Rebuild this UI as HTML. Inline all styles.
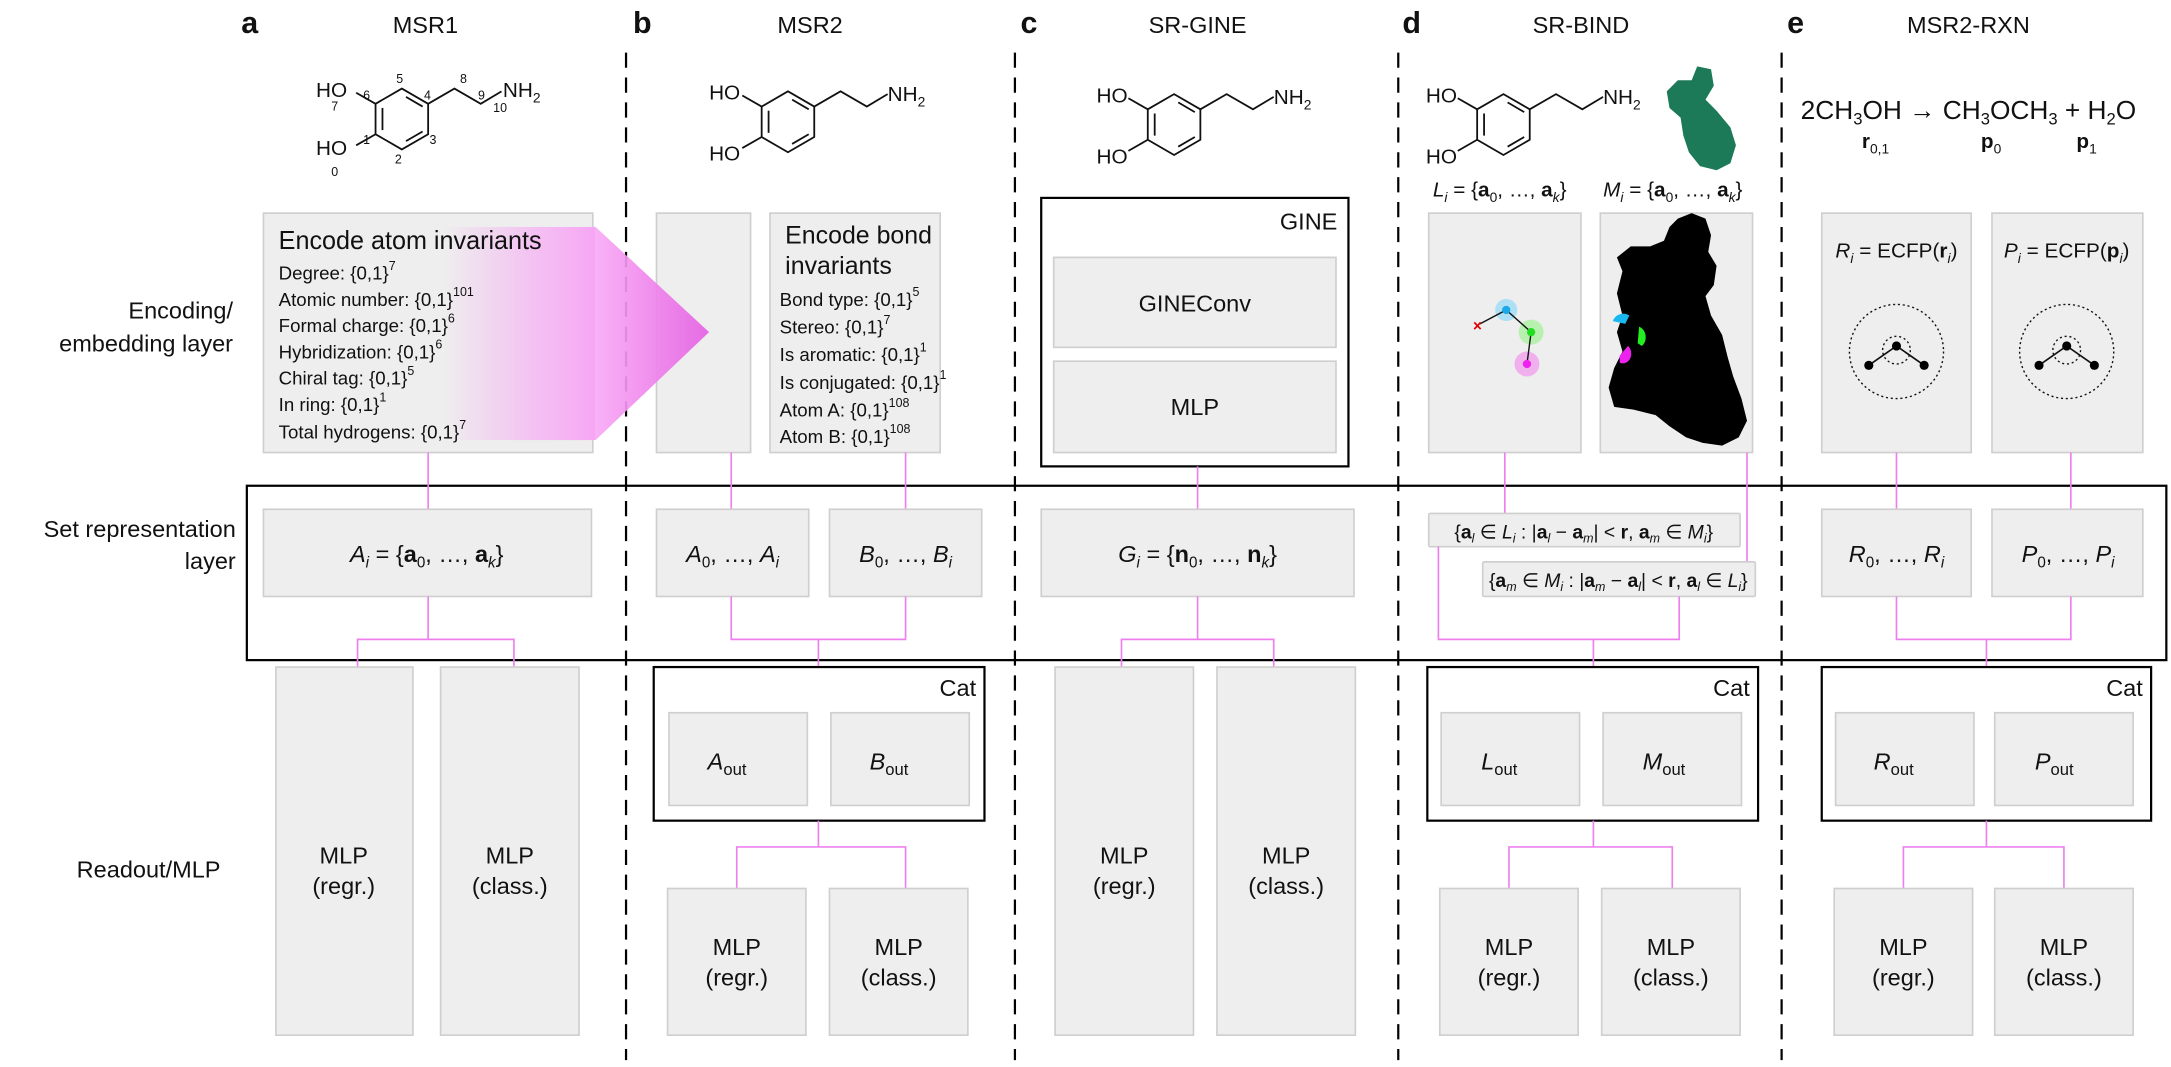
<!DOCTYPE html>
<html><head><meta charset="utf-8"><style>
html,body{margin:0;padding:0;background:#fff;}
svg{display:block;}
text{font-family:"Liberation Sans",sans-serif;fill:#111;}
.g{fill:#eeeeee;stroke:#cfcfcf;stroke-width:1.2;}
.k{fill:none;stroke:#000;stroke-width:1.6;}
.p{fill:none;stroke:#ee80ee;stroke-width:1.2;}
.d{stroke:#000;stroke-width:1.6;stroke-dasharray:11,7;}
.t{font-size:17px;}
.s{font-size:13.5px;}
.b{font-weight:bold;font-size:22px;}
.m{stroke:#111;stroke-width:1.3;fill:none;}
</style></head><body>
<svg width="2171" height="1067" viewBox="0 0 1568 771" xmlns="http://www.w3.org/2000/svg">
<defs>
<linearGradient id="pg" x1="320" y1="0" x2="430" y2="0" gradientUnits="userSpaceOnUse">
<stop offset="0" stop-color="#f7a0f5" stop-opacity="0"/>
<stop offset="1" stop-color="#f7a6f4" stop-opacity="1"/>
</linearGradient>
<linearGradient id="pg2" x1="430" y1="0" x2="512" y2="0" gradientUnits="userSpaceOnUse">
<stop offset="0" stop-color="#f8aaf5"/>
<stop offset="1" stop-color="#e560e3"/>
</linearGradient>
<g id="dopa">
<polygon class="m" points="0,-22 19,-11 19,11 0,22 -19,11 -19,-11"/>
<line class="m" x1="-14" y1="-8" x2="-14" y2="8"/>
<line class="m" x1="3" y1="-16" x2="15" y2="-9"/>
<line class="m" x1="3" y1="16" x2="15" y2="9"/>
<line class="m" x1="-19" y1="-11" x2="-33" y2="-19"/>
<line class="m" x1="-19" y1="11" x2="-33" y2="19"/>
<polyline class="m" points="19,-11 38,-22 57,-11 72,-20"/>
</g>
</defs>

<line class="d" x1="452" y1="38" x2="452" y2="766"/>
<line class="d" x1="733" y1="38" x2="733" y2="766"/>
<line class="d" x1="1010" y1="38" x2="1010" y2="766"/>
<line class="d" x1="1287" y1="38" x2="1287" y2="766"/>

<text class="b" x="174" y="24">a</text><text class="t" x="307" y="24" text-anchor="middle">MSR1</text>
<text class="b" x="457" y="24">b</text><text class="t" x="585" y="24" text-anchor="middle">MSR2</text>
<text class="b" x="737" y="24">c</text><text class="t" x="865" y="24" text-anchor="middle">SR-GINE</text>
<text class="b" x="1013" y="24">d</text><text class="t" x="1142" y="24" text-anchor="middle">SR-BIND</text>
<text class="b" x="1291" y="24">e</text><text class="t" x="1422" y="24" text-anchor="middle">MSR2-RXN</text>

<text class="t" x="168" y="230" text-anchor="end">Encoding/</text>
<text class="t" x="168" y="254" text-anchor="end">embedding layer</text>
<text class="t" x="170" y="388" text-anchor="end">Set representation</text>
<text class="t" x="170" y="411" text-anchor="end">layer</text>
<text class="t" x="107" y="634" text-anchor="middle">Readout/MLP</text>

<use href="#dopa" x="290" y="86"/>
<text x="228" y="70" style="font-size:15px">HO</text><text x="228" y="112" style="font-size:15px">HO</text><text x="363" y="70" style="font-size:15px">NH<tspan style="font-size:10px" dy="4">2</tspan></text>
<g style="font-size:9px;font-family:'Liberation Serif',serif">
<text x="286" y="60">5</text><text x="306" y="72">4</text><text x="262" y="72">6</text><text x="239" y="80">7</text><text x="332" y="60">8</text><text x="345" y="72">9</text><text x="356" y="81">10</text><text x="262" y="104">1</text><text x="310" y="104">3</text><text x="285" y="118">2</text><text x="239" y="127">0</text>
</g>
<use href="#dopa" x="569" y="88"/>
<text x="512" y="72" style="font-size:15px">HO</text><text x="512" y="116" style="font-size:15px">HO</text><text x="641" y="73" style="font-size:15px">NH<tspan style="font-size:10px" dy="4">2</tspan></text>
<use href="#dopa" x="848" y="90"/>
<text x="792" y="74" style="font-size:15px">HO</text><text x="792" y="118" style="font-size:15px">HO</text><text x="920" y="75" style="font-size:15px">NH<tspan style="font-size:10px" dy="4">2</tspan></text>
<use href="#dopa" x="1086" y="90"/>
<text x="1030" y="74" style="font-size:15px">HO</text><text x="1030" y="118" style="font-size:15px">HO</text><text x="1158" y="75" style="font-size:15px">NH<tspan style="font-size:10px" dy="4">2</tspan></text>
<path d="M1226,48 L1236,50 L1238,62 L1232,72 L1240,80 L1250,92 L1254,105 L1250,118 L1240,123 L1228,120 L1220,110 L1216,98 L1214,85 L1206,78 L1204,66 L1212,58 L1222,58 Z" fill="#1c7a58"/>

<text x="1422" y="86" text-anchor="middle" style="font-size:19px">2CH<tspan style="font-size:12px" dy="4">3</tspan><tspan dy="-4">OH → CH</tspan><tspan style="font-size:12px" dy="4">3</tspan><tspan dy="-4">OCH</tspan><tspan style="font-size:12px" dy="4">3</tspan><tspan dy="-4"> + H</tspan><tspan style="font-size:12px" dy="4">2</tspan><tspan dy="-4">O</tspan></text>
<text x="1345" y="107" style="font-size:15px;font-weight:bold">r<tspan style="font-size:10px;font-weight:normal" dy="4">0,1</tspan></text>
<text x="1431" y="107" style="font-size:15px;font-weight:bold">p<tspan style="font-size:10px;font-weight:normal" dy="4">0</tspan></text>
<text x="1500" y="107" style="font-size:15px;font-weight:bold">p<tspan style="font-size:10px;font-weight:normal" dy="4">1</tspan></text>

<rect class="k" x="178" y="351" width="1387" height="126"/>

<!-- a -->
<rect class="g" x="190" y="154" width="238" height="173"/>
<rect class="g" x="474" y="154" width="68" height="173"/>
<rect x="320" y="164" width="110" height="154" fill="url(#pg)"/>
<polygon points="430,164 512,240 430,318" fill="url(#pg2)" opacity="0.92"/>
<text x="201" y="180" style="font-size:19px" textLength="190" lengthAdjust="spacingAndGlyphs">Encode atom invariants</text>
<g class="s">
<text x="201" y="202">Degree: {0,1}<tspan font-size="9" dy="-7">7</tspan></text>
<text x="201" y="221">Atomic number: {0,1}<tspan font-size="9" dy="-7">101</tspan></text>
<text x="201" y="240">Formal charge: {0,1}<tspan font-size="9" dy="-7">6</tspan></text>
<text x="201" y="259">Hybridization: {0,1}<tspan font-size="9" dy="-7">6</tspan></text>
<text x="201" y="278">Chiral tag: {0,1}<tspan font-size="9" dy="-7">5</tspan></text>
<text x="201" y="297">In ring: {0,1}<tspan font-size="9" dy="-7">1</tspan></text>
<text x="201" y="317">Total hydrogens: {0,1}<tspan font-size="9" dy="-7">7</tspan></text>
</g>
<line class="p" x1="309" y1="327" x2="309" y2="368"/>
<rect class="g" x="190" y="368" width="237" height="63"/>
<text x="308" y="406" text-anchor="middle" style="font-size:17px"><tspan font-style="italic">A</tspan><tspan font-size="11" dy="4" font-style="italic">i</tspan><tspan dy="-4"> = {</tspan><tspan font-weight="bold">a</tspan><tspan font-size="11" dy="4">0</tspan><tspan dy="-4">, …, </tspan><tspan font-weight="bold">a</tspan><tspan font-size="11" dy="4" font-style="italic">k</tspan><tspan dy="-4">}</tspan></text>
<polyline class="p" points="309,431 309,462"/><polyline class="p" points="258,482 258,462 371,462 371,482"/>
<rect class="g" x="199" y="482" width="99" height="266"/><rect class="g" x="318" y="482" width="100" height="266"/>
<text class="t" x="248" y="624" text-anchor="middle">MLP</text><text class="t" x="248" y="646" text-anchor="middle">(regr.)</text>
<text class="t" x="368" y="624" text-anchor="middle">MLP</text><text class="t" x="368" y="646" text-anchor="middle">(class.)</text>

<!-- b -->
<rect class="g" x="556" y="154" width="123" height="173"/>
<text x="567" y="176" style="font-size:18px">Encode bond</text>
<text x="567" y="198" style="font-size:18px">invariants</text>
<g class="s">
<text x="563" y="221">Bond type: {0,1}<tspan font-size="9" dy="-7">5</tspan></text>
<text x="563" y="241">Stereo: {0,1}<tspan font-size="9" dy="-7">7</tspan></text>
<text x="563" y="261">Is aromatic: {0,1}<tspan font-size="9" dy="-7">1</tspan></text>
<text x="563" y="281">Is conjugated: {0,1}<tspan font-size="9" dy="-7">1</tspan></text>
<text x="563" y="301">Atom A: {0,1}<tspan font-size="9" dy="-7">108</tspan></text>
<text x="563" y="320">Atom B: {0,1}<tspan font-size="9" dy="-7">108</tspan></text>
</g>
<line class="p" x1="528" y1="327" x2="528" y2="368"/><line class="p" x1="654" y1="327" x2="654" y2="368"/>
<rect class="g" x="474" y="368" width="110" height="63"/><rect class="g" x="599" y="368" width="110" height="63"/>
<text x="529" y="406" text-anchor="middle" style="font-size:17px;font-style:italic">A<tspan font-size="11" dy="4" font-style="normal">0</tspan><tspan dy="-4" font-style="normal">, …, </tspan>A<tspan font-size="11" dy="4">i</tspan></text>
<text x="654" y="406" text-anchor="middle" style="font-size:17px;font-style:italic">B<tspan font-size="11" dy="4" font-style="normal">0</tspan><tspan dy="-4" font-style="normal">, …, </tspan>B<tspan font-size="11" dy="4">i</tspan></text>
<polyline class="p" points="528,431 528,462 654,462 654,431"/><line class="p" x1="591" y1="462" x2="591" y2="482"/>
<rect class="k" x="472" y="482" width="239" height="111"/>
<text class="t" x="705" y="503" text-anchor="end">Cat</text>
<rect class="g" x="483" y="515" width="100" height="67"/><rect class="g" x="600" y="515" width="100" height="67"/>
<text x="525" y="556" text-anchor="middle" style="font-size:17px"><tspan font-style="italic">A</tspan><tspan font-size="12" dy="4">out</tspan></text>
<text x="642" y="556" text-anchor="middle" style="font-size:17px"><tspan font-style="italic">B</tspan><tspan font-size="12" dy="4">out</tspan></text>
<line class="p" x1="591" y1="593" x2="591" y2="612"/><polyline class="p" points="532,642 532,612 654,612 654,642"/>
<rect class="g" x="482" y="642" width="100" height="106"/><rect class="g" x="599" y="642" width="100" height="106"/>
<text class="t" x="532" y="690" text-anchor="middle">MLP</text><text class="t" x="532" y="712" text-anchor="middle">(regr.)</text>
<text class="t" x="649" y="690" text-anchor="middle">MLP</text><text class="t" x="649" y="712" text-anchor="middle">(class.)</text>

<!-- c -->
<rect class="k" x="752" y="143" width="222" height="194"/>
<text class="t" x="966" y="166" text-anchor="end">GINE</text>
<rect class="g" x="761" y="186" width="204" height="65"/><rect class="g" x="761" y="261" width="204" height="66"/>
<text class="t" x="863" y="225" text-anchor="middle">GINEConv</text>
<text class="t" x="863" y="300" text-anchor="middle">MLP</text>
<line class="p" x1="865" y1="337" x2="865" y2="368"/>
<rect class="g" x="752" y="368" width="226" height="63"/>
<text x="865" y="406" text-anchor="middle" style="font-size:17px"><tspan font-style="italic">G</tspan><tspan font-size="11" dy="4" font-style="italic">i</tspan><tspan dy="-4"> = {</tspan><tspan font-weight="bold">n</tspan><tspan font-size="11" dy="4">0</tspan><tspan dy="-4">, …, </tspan><tspan font-weight="bold">n</tspan><tspan font-size="11" dy="4" font-style="italic">k</tspan><tspan dy="-4">}</tspan></text>
<line class="p" x1="865" y1="431" x2="865" y2="462"/><polyline class="p" points="810,482 810,462 920,462 920,482"/>
<rect class="g" x="762" y="482" width="100" height="266"/><rect class="g" x="879" y="482" width="100" height="266"/>
<text class="t" x="812" y="624" text-anchor="middle">MLP</text><text class="t" x="812" y="646" text-anchor="middle">(regr.)</text>
<text class="t" x="929" y="624" text-anchor="middle">MLP</text><text class="t" x="929" y="646" text-anchor="middle">(class.)</text>

<!-- d -->
<text x="1035" y="142" style="font-size:15px"><tspan font-style="italic">L</tspan><tspan font-size="10" dy="4" font-style="italic">i</tspan><tspan dy="-4"> = {</tspan><tspan font-weight="bold">a</tspan><tspan font-size="10" dy="4">0</tspan><tspan dy="-4">, …, </tspan><tspan font-weight="bold">a</tspan><tspan font-size="10" dy="4" font-style="italic">k</tspan><tspan dy="-4">}</tspan></text>
<text x="1158" y="142" style="font-size:15px"><tspan font-style="italic">M</tspan><tspan font-size="10" dy="4" font-style="italic">i</tspan><tspan dy="-4"> = {</tspan><tspan font-weight="bold">a</tspan><tspan font-size="10" dy="4">0</tspan><tspan dy="-4">, …, </tspan><tspan font-weight="bold">a</tspan><tspan font-size="10" dy="4" font-style="italic">k</tspan><tspan dy="-4">}</tspan></text>
<rect class="g" x="1032" y="154" width="110" height="173"/><rect class="g" x="1156" y="154" width="110" height="173"/>
<circle cx="1088" cy="224" r="8" fill="#aee0f5"/><circle cx="1106" cy="240" r="9" fill="#b8f0b0"/><circle cx="1103" cy="263" r="9" fill="#f0b0ee"/>
<polyline points="1069,234 1088,224 1106,240 1103,263" fill="none" stroke="#111" stroke-width="1"/>
<circle cx="1088" cy="224" r="3" fill="#1aa8e8"/><circle cx="1106" cy="240" r="3" fill="#22dd22"/><circle cx="1103" cy="263" r="3" fill="#ee22ee"/>
<text x="1064" y="239" style="font-size:11px;fill:#e00000;font-weight:bold">×</text>
<path d="M1212,158 L1222,154 L1232,158 L1236,170 L1234,182 L1240,192 L1238,206 L1232,214 L1236,228 L1244,242 L1248,258 L1252,272 L1258,288 L1262,304 L1256,316 L1244,322 L1230,320 L1218,316 L1206,308 L1196,300 L1180,296 L1166,294 L1162,280 L1166,266 L1172,254 L1168,240 L1172,228 L1168,212 L1172,196 L1168,186 L1178,178 L1192,178 L1202,174 L1206,164 Z" fill="#000"/>
<path d="M1165,232 a8,8 0 0 1 12,-4 l-3,6 z" fill="#1ab8f0"/>
<path d="M1184,236 a7,8 0 0 1 2,14 l-3,-2 z" fill="#22ee22"/>
<path d="M1176,250 a6,7 0 0 1 -6,12 l0,-5 z" fill="#ee22ee"/>
<line class="p" x1="1087" y1="327" x2="1087" y2="371"/>
<line class="p" x1="1262" y1="327" x2="1262" y2="406"/>
<rect class="g" x="1032" y="371" width="225" height="24" rx="1"/>
<text x="1144" y="389" text-anchor="middle" style="font-size:14px">{<tspan font-weight="bold">a</tspan><tspan font-size="9" dy="3" font-style="italic">l</tspan><tspan dy="-3"> ∈ </tspan><tspan font-style="italic">L</tspan><tspan font-size="9" dy="3" font-style="italic">i</tspan><tspan dy="-3"> : |</tspan><tspan font-weight="bold">a</tspan><tspan font-size="9" dy="3" font-style="italic">l</tspan><tspan dy="-3"> − </tspan><tspan font-weight="bold">a</tspan><tspan font-size="9" dy="3" font-style="italic">m</tspan><tspan dy="-3">| &lt; </tspan><tspan font-weight="bold">r</tspan><tspan>, </tspan><tspan font-weight="bold">a</tspan><tspan font-size="9" dy="3" font-style="italic">m</tspan><tspan dy="-3"> ∈ </tspan><tspan font-style="italic">M</tspan><tspan font-size="9" dy="3" font-style="italic">i</tspan><tspan dy="-3">}</tspan></text>
<rect class="g" x="1071" y="406" width="197" height="25" rx="1"/>
<text x="1169" y="424" text-anchor="middle" style="font-size:14px">{<tspan font-weight="bold">a</tspan><tspan font-size="9" dy="3" font-style="italic">m</tspan><tspan dy="-3"> ∈ </tspan><tspan font-style="italic">M</tspan><tspan font-size="9" dy="3" font-style="italic">i</tspan><tspan dy="-3"> : |</tspan><tspan font-weight="bold">a</tspan><tspan font-size="9" dy="3" font-style="italic">m</tspan><tspan dy="-3"> − </tspan><tspan font-weight="bold">a</tspan><tspan font-size="9" dy="3" font-style="italic">l</tspan><tspan dy="-3">| &lt; </tspan><tspan font-weight="bold">r</tspan><tspan>, </tspan><tspan font-weight="bold">a</tspan><tspan font-size="9" dy="3" font-style="italic">l</tspan><tspan dy="-3"> ∈ </tspan><tspan font-style="italic">L</tspan><tspan font-size="9" dy="3" font-style="italic">i</tspan><tspan dy="-3">}</tspan></text>
<polyline class="p" points="1039,395 1039,462 1213,462 1213,431"/><line class="p" x1="1151" y1="462" x2="1151" y2="482"/>
<rect class="k" x="1031" y="482" width="239" height="111"/>
<text class="t" x="1264" y="503" text-anchor="end">Cat</text>
<rect class="g" x="1041" y="515" width="100" height="67"/><rect class="g" x="1158" y="515" width="100" height="67"/>
<text x="1083" y="556" text-anchor="middle" style="font-size:17px"><tspan font-style="italic">L</tspan><tspan font-size="12" dy="4">out</tspan></text>
<text x="1202" y="556" text-anchor="middle" style="font-size:17px"><tspan font-style="italic">M</tspan><tspan font-size="12" dy="4">out</tspan></text>
<line class="p" x1="1151" y1="593" x2="1151" y2="612"/><polyline class="p" points="1090,642 1090,612 1208,612 1208,642"/>
<rect class="g" x="1040" y="642" width="100" height="106"/><rect class="g" x="1157" y="642" width="100" height="106"/>
<text class="t" x="1090" y="690" text-anchor="middle">MLP</text><text class="t" x="1090" y="712" text-anchor="middle">(regr.)</text>
<text class="t" x="1207" y="690" text-anchor="middle">MLP</text><text class="t" x="1207" y="712" text-anchor="middle">(class.)</text>

<!-- e -->
<rect class="g" x="1316" y="154" width="108" height="173"/><rect class="g" x="1439" y="154" width="109" height="173"/>
<text x="1370" y="186" text-anchor="middle" style="font-size:15px"><tspan font-style="italic">R</tspan><tspan font-size="10" dy="4" font-style="italic">i</tspan><tspan dy="-4"> = ECFP(</tspan><tspan font-weight="bold">r</tspan><tspan font-size="10" dy="4" font-style="italic">i</tspan><tspan dy="-4">)</tspan></text>
<text x="1493" y="186" text-anchor="middle" style="font-size:15px"><tspan font-style="italic">P</tspan><tspan font-size="10" dy="4" font-style="italic">i</tspan><tspan dy="-4"> = ECFP(</tspan><tspan font-weight="bold">p</tspan><tspan font-size="10" dy="4" font-style="italic">i</tspan><tspan dy="-4">)</tspan></text>
<g id="ecfp">
<circle cx="1370" cy="254" r="34" fill="none" stroke="#111" stroke-width="1" stroke-dasharray="1.5,2"/>
<circle cx="1370" cy="253" r="10" fill="none" stroke="#111" stroke-width="1" stroke-dasharray="1.5,2"/>
<polyline points="1350,264 1370,250 1390,264" fill="none" stroke="#111" stroke-width="1.2"/>
<circle cx="1370" cy="250" r="3.3" fill="#000"/><circle cx="1350" cy="264" r="3.3" fill="#000"/><circle cx="1390" cy="264" r="3.3" fill="#000"/>
</g>
<use href="#ecfp" x="123" y="0"/>
<line class="p" x1="1370" y1="327" x2="1370" y2="368"/><line class="p" x1="1496" y1="327" x2="1496" y2="368"/>
<rect class="g" x="1316" y="368" width="108" height="63"/><rect class="g" x="1439" y="368" width="109" height="63"/>
<text x="1370" y="406" text-anchor="middle" style="font-size:17px;font-style:italic">R<tspan font-size="11" dy="4" font-style="normal">0</tspan><tspan dy="-4" font-style="normal">, …, </tspan>R<tspan font-size="11" dy="4">i</tspan></text>
<text x="1494" y="406" text-anchor="middle" style="font-size:17px;font-style:italic">P<tspan font-size="11" dy="4" font-style="normal">0</tspan><tspan dy="-4" font-style="normal">, …, </tspan>P<tspan font-size="11" dy="4">i</tspan></text>
<polyline class="p" points="1370,431 1370,462 1496,462 1496,431"/><line class="p" x1="1435" y1="462" x2="1435" y2="482"/>
<rect class="k" x="1316" y="482" width="238" height="111"/>
<text class="t" x="1548" y="503" text-anchor="end">Cat</text>
<rect class="g" x="1326" y="515" width="100" height="67"/><rect class="g" x="1441" y="515" width="100" height="67"/>
<text x="1368" y="556" text-anchor="middle" style="font-size:17px"><tspan font-style="italic">R</tspan><tspan font-size="12" dy="4">out</tspan></text>
<text x="1484" y="556" text-anchor="middle" style="font-size:17px"><tspan font-style="italic">P</tspan><tspan font-size="12" dy="4">out</tspan></text>
<line class="p" x1="1435" y1="593" x2="1435" y2="612"/><polyline class="p" points="1375,642 1375,612 1491,612 1491,642"/>
<rect class="g" x="1325" y="642" width="100" height="106"/><rect class="g" x="1441" y="642" width="100" height="106"/>
<text class="t" x="1375" y="690" text-anchor="middle">MLP</text><text class="t" x="1375" y="712" text-anchor="middle">(regr.)</text>
<text class="t" x="1491" y="690" text-anchor="middle">MLP</text><text class="t" x="1491" y="712" text-anchor="middle">(class.)</text>
</svg>
</body></html>
